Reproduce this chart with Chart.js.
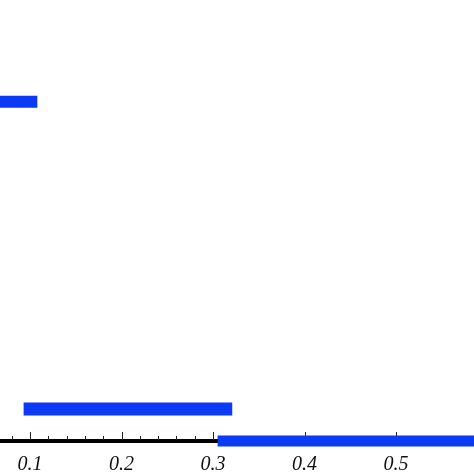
<!DOCTYPE html>
<html>
<head>
<meta charset="utf-8">
<script src="https://cdn.jsdelivr.net/npm/chart.js@4"></script>
<style>
  html, body { margin: 0; padding: 0; background: #ffffff; }
  #wrap { width: 474px; height: 474px; }
</style>
</head>
<body>
<div id="wrap"><canvas id="stepChart"></canvas></div>
<script>
/* data */
const segStartX = [0.0672, 0.093, 0.305];
const segEndX = [0.108, 0.321, 0.5852];
const segLevel = [1.0, 0.094, 0];
const segWidth = [12, 13, 11];
const xTicks = [0.1, 0.2, 0.3, 0.4, 0.5];
const xMinorStep = 0.02;
const xMin = 0.0672, xMax = 0.5852;
const yMin = 0, yMax = 1.3;

const BLUE = "#0a3af4";

/* inward tick marks on the x axis */
const innerTicks = {
    id: "innerTicks",
    beforeDatasetsDraw(chart) {
        const sc = chart.scales.x;
        const ctx = chart.ctx;
        const y0 = chart.chartArea.bottom - 1;
        ctx.save();
        ctx.strokeStyle = "#222";
        ctx.lineWidth = 1;
        for (let v = 0.08; v < xMax; v += xMinorStep) {
            const val = Math.round(v * 100) / 100;
            const px = Math.round(sc.getPixelForValue(val)) + 0.5;
            const major = xTicks.some(t => Math.abs(t - val) < 1e-6);
            ctx.beginPath();
            ctx.moveTo(px, y0);
            ctx.lineTo(px, y0 - (major ? 8 : 4));
            ctx.stroke();
        }
        ctx.restore();
    }
};

const datasets = segLevel.map((lvl, i) => ({
    data: [{ x: segStartX[i], y: lvl }, { x: segEndX[i], y: lvl }],
    borderColor: BLUE,
    borderWidth: segWidth[i],
    borderCapStyle: "butt",
    pointRadius: 0,
    fill: false,
    clip: { left: 0, right: 0, top: 20, bottom: 20 }
}));

new Chart(document.getElementById("stepChart"), {
    type: "line",
    data: { datasets: datasets },
    options: {
        responsive: true,
        maintainAspectRatio: false,
        animation: false,
        layout: { padding: 0 },
        plugins: { legend: { display: false }, tooltip: { enabled: false } },
        scales: {
            x: {
                type: "linear",
                min: xMin,
                max: xMax,
                afterBuildTicks: sc => { sc.ticks = xTicks.map(v => ({ value: v })); },
                afterFit: sc => { sc.height = 33; },
                border: { display: true, color: "#000", width: 4 },
                grid: { drawOnChartArea: false, drawTicks: false },
                ticks: {
                    padding: 12,
                    color: "#111",
                    maxRotation: 0,
                    autoSkip: false,
                    font: { family: "'Liberation Serif', 'DejaVu Serif', serif", style: "italic", size: 20 },
                    callback: v => v.toFixed(1)
                }
            },
            y: {
                type: "linear",
                display: false,
                min: yMin,
                max: yMax
            }
        }
    },
    plugins: [innerTicks]
});
</script>
</body>
</html>
